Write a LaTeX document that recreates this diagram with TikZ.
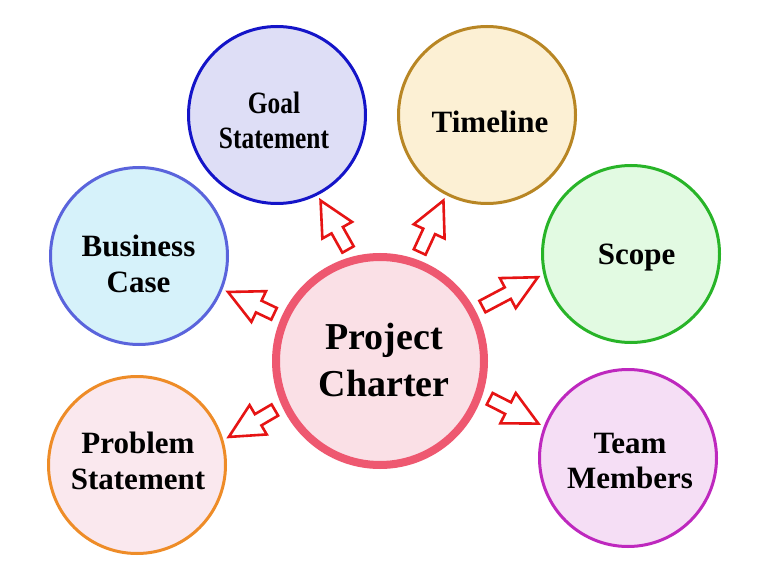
\documentclass[tikz,border=0pt]{standalone}
\usepackage{fontspec}
\usepackage{graphicx}
\setmainfont{Liberation Serif}
\usetikzlibrary{calc}
\definecolor{arrowred}{RGB}{230,20,20}
\definecolor{charterline}{RGB}{238,88,112}
\definecolor{charterfill}{RGB}{250,224,230}
\definecolor{goalline}{RGB}{20,20,200}
\definecolor{goalfill}{RGB}{222,222,246}
\definecolor{timeline}{RGB}{184,134,36}
\definecolor{timefill}{RGB}{252,240,212}
\definecolor{caseline}{RGB}{90,100,220}
\definecolor{casefill}{RGB}{214,242,250}
\definecolor{scopeline}{RGB}{40,180,40}
\definecolor{scopefill}{RGB}{226,250,226}
\definecolor{probline}{RGB}{238,140,40}
\definecolor{probfill}{RGB}{250,232,238}
\definecolor{teamline}{RGB}{190,40,190}
\definecolor{teamfill}{RGB}{245,222,245}

\begin{document}
\begin{tikzpicture}[x=1pt,y=-1pt,
	bubble/.style={circle,minimum size=177pt,inner sep=0pt,line width=3pt,outer sep=7.5pt},
	word/.style={align=center,font=\fontsize{31}{35.5}\selectfont\bfseries},
	blockarrow/.style={draw=arrowred,fill=white,line width=2.6pt,line join=miter,
		to path={($(\tikztostart)!6.5pt!90:(\tikztotarget)$)
			-- ($($(\tikztotarget)!34pt!(\tikztostart)$)!6.5pt!90:(\tikztotarget)$)
			-- ($($(\tikztotarget)!34pt!(\tikztostart)$)!17pt!90:(\tikztotarget)$)
			-- (\tikztotarget)
			-- ($($(\tikztotarget)!34pt!(\tikztostart)$)!17pt!-90:(\tikztotarget)$)
			-- ($($(\tikztotarget)!34pt!(\tikztostart)$)!6.5pt!-90:(\tikztotarget)$)
			-- ($(\tikztostart)!6.5pt!-90:(\tikztotarget)$) -- cycle}}]
	
	\useasboundingbox[fill=white] (0,0) rectangle (768,585);
	
	% the centre
	\node[circle,minimum size=208pt,inner sep=0pt,line width=8pt,outer sep=12pt,
		draw=charterline,fill=charterfill] (charter) at (380,361) {};
	\node[align=center,font=\fontsize{38}{47.5}\selectfont\bfseries] (chartertext) at (384,360) {Project\\Charter};
	
	% the six parts
	\node[bubble,draw=goalline,fill=goalfill] (goal) at (277,115) {};
	\node[word] (goaltext) at (274,120.5) {\scalebox{0.82}[1]{Goal}\\\scalebox{0.82}[1]{Statement}};
	
	\node[bubble,draw=timeline,fill=timefill] (timeline) at (487,115) {};
	\node[word] (timetext) at (490,122) {Timeline};
	
	\node[bubble,draw=caseline,fill=casefill] (business) at (139,256) {};
	\node[word] (casetext) at (138.5,264) {Business\\Case};
	
	\node[bubble,draw=scopeline,fill=scopefill] (scope) at (631,254) {};
	\node[word] (scopetext) at (636.7,258) {Scope};
	
	\node[bubble,draw=probline,fill=probfill] (problem) at (137,465) {};
	\node[word] (probtext) at (138,461) {Problem\\Statement};
	
	\node[bubble,draw=teamline,fill=teamfill] (team) at (628,458) {};
	\node[word] (teamtext) at (630,461) {Team\\Members};
	
	% arrows
	\draw[blockarrow] (charter.106.6) to (goal.-63.4);
	\draw[blockarrow] (charter.70.5) to (timeline.243.4);
	\draw[blockarrow] (charter.156.9) to (business.-22.2);
	\draw[blockarrow] (charter.28.7) to (scope.194.6);
	\draw[blockarrow] (charter.205.9) to (problem.17.7);
	\draw[blockarrow] (charter.-19.5) to (team.159.4);
	
\end{tikzpicture}
\end{document}
